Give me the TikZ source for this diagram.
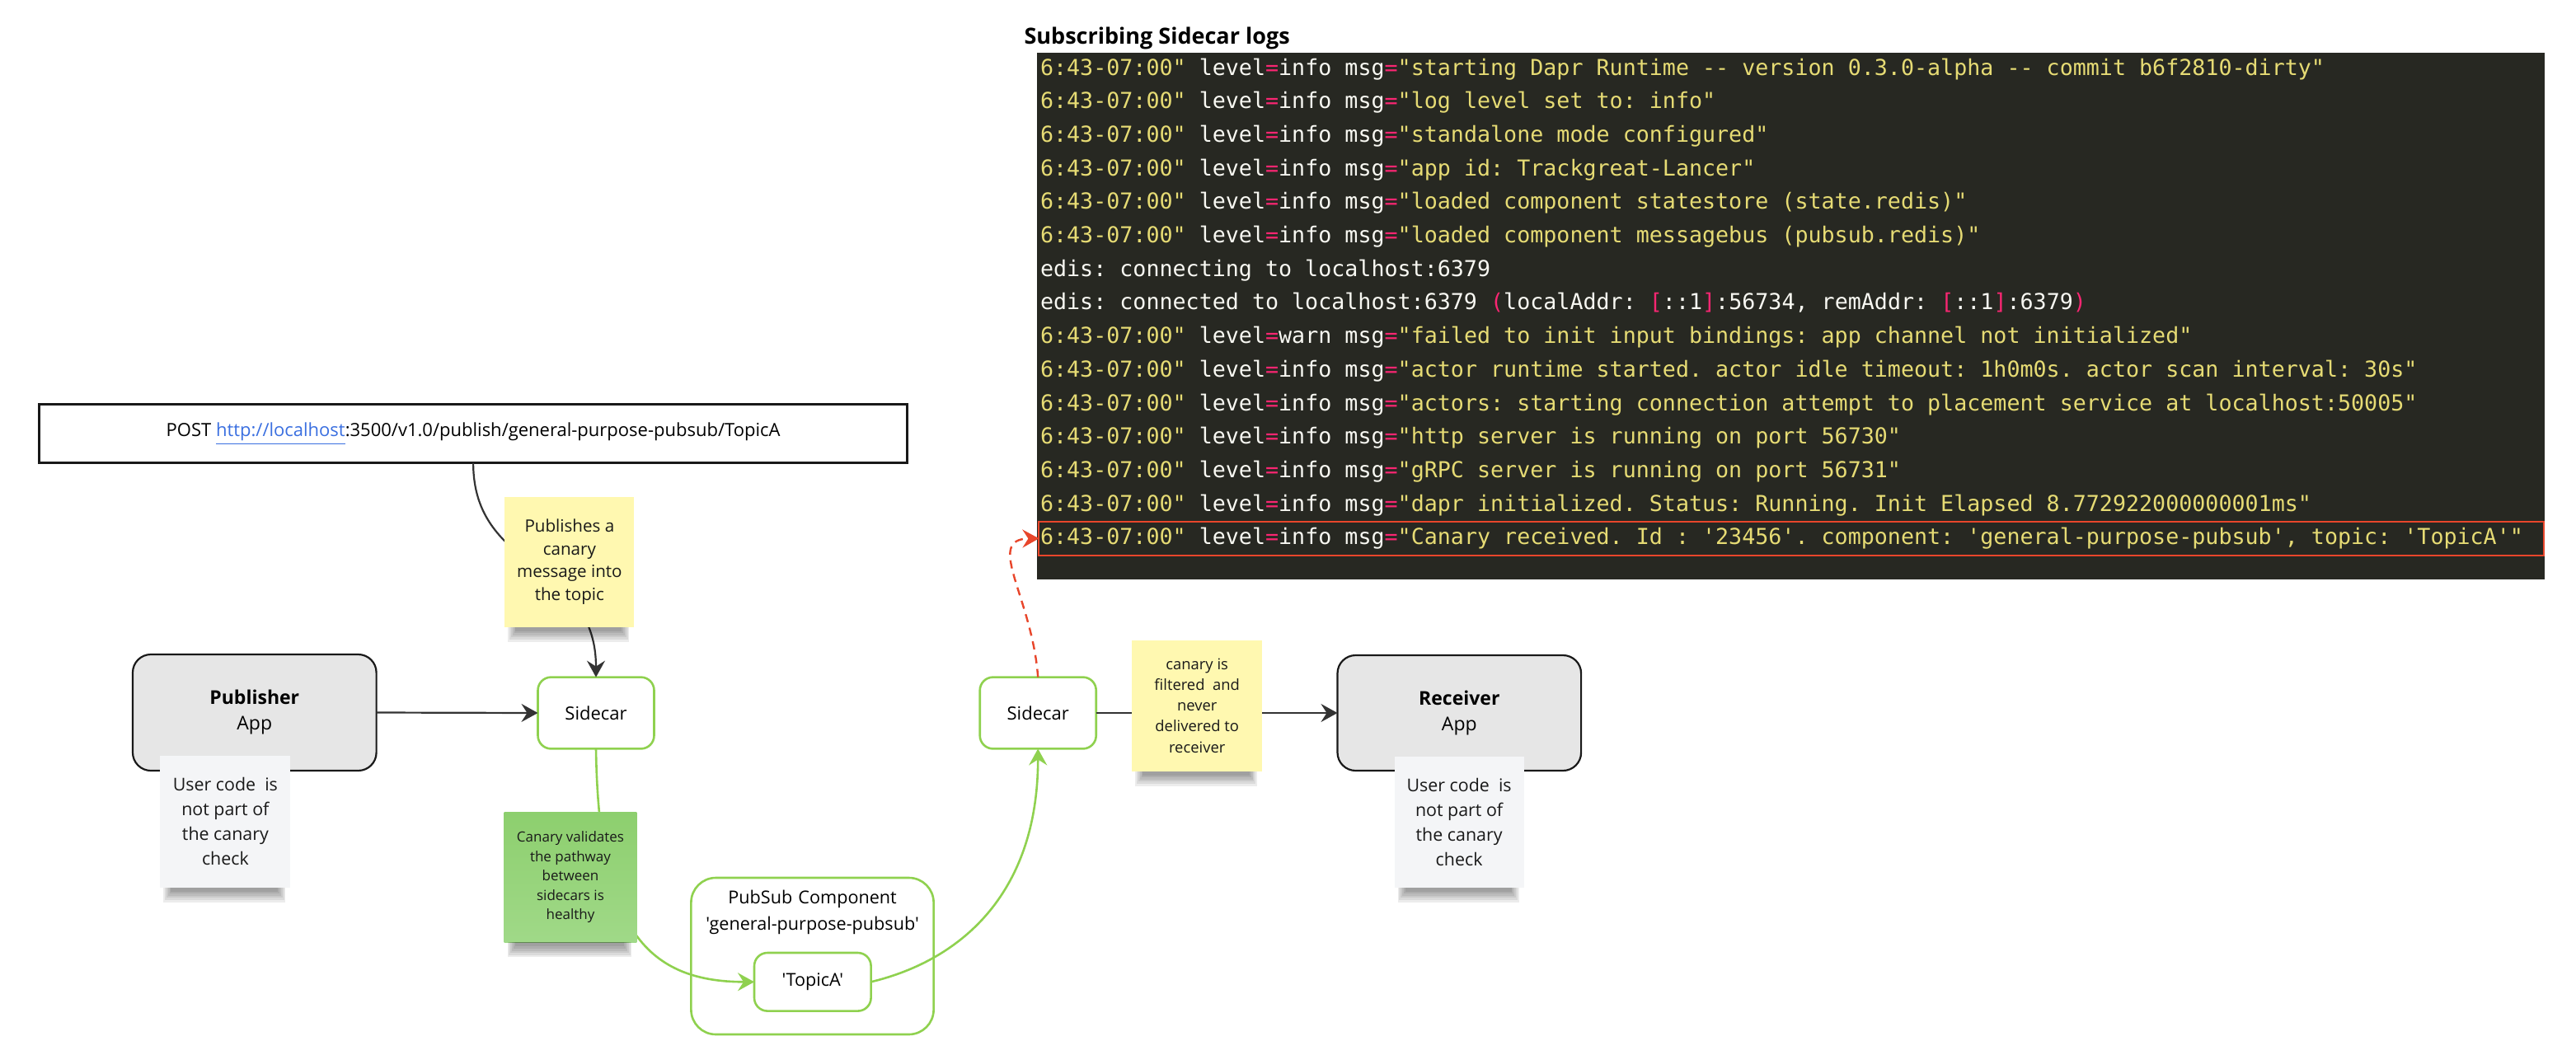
\documentclass[tikz,border=0pt]{standalone}
\usepackage{fontspec}
\usetikzlibrary{arrows.meta}
\newfontfamily\osans{Open Sans}
\newfontfamily\termfont{DejaVu Sans Mono}
\definecolor{termbg}{HTML}{272822}
\definecolor{tyel}{HTML}{E6DB74}
\definecolor{twhite}{HTML}{F8F8F2}
\definecolor{tpink}{HTML}{F92672}
\definecolor{redhl}{HTML}{E8462B}
\definecolor{sidegreen}{HTML}{8FD14F}
\definecolor{stickyyel}{HTML}{FFF8B0}
\definecolor{stickygray}{HTML}{F4F5F7}
\definecolor{sgreenA}{HTML}{8DCF6E}
\definecolor{sgreenB}{HTML}{A0D988}
\definecolor{appgray}{HTML}{E6E6E6}
\definecolor{linkblue}{HTML}{3A6FE0}
\definecolor{darkline}{HTML}{333333}
\newcommand{\Ty}[1]{\textcolor{tyel}{#1}}
\newcommand{\Tw}[1]{\textcolor{twhite}{#1}}
\newcommand{\Tp}[1]{\textcolor{tpink}{#1}}
\newcommand{\logline}[2]{\Ty{6:43-07:00"} \Tw{level}\Tp{=}\Tw{#1} \Tw{msg}\Tp{=}\Ty{"#2"}}
\newcommand{\fs}[2]{\fontsize{#1}{#2}\selectfont}
\newcommand{\stickyshadow}[1]{%
  \foreach \i in {0,...,5}{%
    \fill[black, opacity=0.075] ([xshift=2pt+\i*0.9pt]#1.south west) rectangle ([xshift=-3pt-\i*0.9pt, yshift=-9pt+\i*1.3pt]#1.south east);
  }}
\frenchspacing
\begin{document}
\frenchspacing
\begin{tikzpicture}[x=1pt,y=-1pt,
  every node/.style={inner sep=0pt, outer sep=0pt},
  logrow/.style={anchor=base west, font=\termfont\fs{13.34}{16}\frenchspacing, text=twhite},
  sidecar/.style={draw=sidegreen, line width=1.3pt, rounded corners=8pt, fill=white,
    minimum width=70.5pt, minimum height=43.4pt, font=\osans\fs{11}{13}},
  appbox/.style={draw=black!90, line width=1.1pt, rounded corners=11pt, fill=appgray,
    minimum width=147.8pt, align=center, font=\osans\fs{11.5}{15.5}},
  stickybase/.style={align=center, text=black!90},
  darkarrow/.style={draw=darkline, line width=1.1pt, -{Stealth[length=10pt, width=11pt, inset=3.5pt]}},
  greenarrow/.style={draw=sidegreen, line width=1.3pt, -{Stealth[length=10pt, width=11pt, inset=3.5pt]}},
  greenline/.style={draw=sidegreen, line width=1.3pt}
]
\useasboundingbox (0,0) rectangle (1562.5,639.5);

% ---------- terminal ----------
\node[anchor=base west, font=\osans\bfseries\fs{13.5}{16}] (title) at (621.3,26.7) {Subscribing Sidecar logs};
\node[fill=termbg, minimum width=914.2pt, minimum height=319.5pt, anchor=north west] (term) at (629.2,32.2) {};
\begin{scope}
\clip (629.2,32.2) rectangle (1543.4,351.7);
\node[logrow] (r1) at (631,45.5) {\logline{info}{starting Dapr Runtime -\kern0pt- version 0.3.0-alpha -\kern0pt- commit b6f2810-dirty}};
\node[logrow] (r2) at (631,65.85) {\logline{info}{log level set to: info}};
\node[logrow] (r3) at (631,86.2) {\logline{info}{standalone mode configured}};
\node[logrow] (r4) at (631,106.55) {\logline{info}{app id: Trackgreat-Lancer}};
\node[logrow] (r5) at (631,126.9) {\logline{info}{loaded component statestore (state.redis)}};
\node[logrow] (r6) at (631,147.25) {\logline{info}{loaded component messagebus (pubsub.redis)}};
\node[logrow] (r7) at (631,167.6) {\Tw{edis: connecting to localhost:6379}};
\node[logrow] (r8) at (631,187.95) {\Tw{edis: connected to localhost:6379 }\Tp{(}\Tw{localAddr: }\Tp{[}\Tw{::1}\Tp{]}\Tw{:56734, remAddr: }\Tp{[}\Tw{::1}\Tp{]}\Tw{:6379}\Tp{)}};
\node[logrow] (r9) at (631,208.3) {\logline{warn}{failed to init input bindings: app channel not initialized}};
\node[logrow] (r10) at (631,228.65) {\logline{info}{actor runtime started. actor idle timeout: 1h0m0s. actor scan interval: 30s}};
\node[logrow] (r11) at (631,249) {\logline{info}{actors: starting connection attempt to placement service at localhost:50005}};
\node[logrow] (r12) at (631,269.35) {\logline{info}{http server is running on port 56730}};
\node[logrow] (r13) at (631,289.7) {\logline{info}{gRPC server is running on port 56731}};
\node[logrow] (r14) at (631,310.05) {\logline{info}{dapr initialized. Status: Running. Init Elapsed 8.772922000000001ms}};
\node[logrow] (r15) at (631,330.4) {\logline{info}{Canary received. Id : '23456'. component: 'general-purpose-pubsub', topic: 'TopicA'}};
\end{scope}
\node[draw=redhl, line width=1pt, minimum width=912.7pt, minimum height=20.7pt, anchor=north west] (redbox) at (630.2,316.3) {};

% ---------- diagram nodes ----------
\node[draw=black!90, line width=1.3pt, fill=white, minimum width=526.5pt, minimum height=35.5pt, font=\osans\fs{11}{13}] (post) at (287.05,263.05)
  {POST {\color{linkblue}\underline{http://localhost}}:3500/v1.0/publish/general-purpose-pubsub/TopicA};
\node[appbox, minimum height=70.5pt] (pub) at (154.4,432.25) {{\bfseries Publisher}\\App};
\node[appbox, minimum height=70pt] (recv) at (885.15,432.5) {{\bfseries Receiver}\\App};
\node[sidecar] (sc1) at (361.5,432.5) {Sidecar};
\node[sidecar] (sc2) at (629.6,432.5) {Sidecar};
\node[draw=sidegreen, line width=1.3pt, rounded corners=15pt, minimum width=147.1pt, minimum height=95pt] (pubsub) at (492.75,580) {};
\node[anchor=base, text width=150pt, align=center, font=\osans\fs{10.8}{16}] (pubsubtxt) at (492.8,548.3) {PubSub Component\\'general-purpose-pubsub'};
\node[draw=sidegreen, line width=1.3pt, rounded corners=8pt, fill=white, minimum width=70.8pt, minimum height=35.3pt, font=\osans\fs{10.8}{13}] (topic) at (492.9,595.65) {'TopicA'};

% ---------- connectors ----------
\draw[darkarrow] (pub.east) -- (sc1.west);
\draw[darkarrow] (sc2.east) -- (recv.west);
\draw[darkarrow] (post.south) .. controls (287,348) and (361.5,340) .. (sc1.north);
\draw[greenarrow] (sc1.south) .. controls (363,560) and (390,595.65) .. (topic.west);
\draw[greenarrow] (topic.east) .. controls (585,582) and (629.6,540) .. (sc2.south);
\draw[draw=redhl, line width=1.2pt, dash pattern=on 5pt off 3.5pt, -{Stealth[length=10pt, width=11pt, inset=3.5pt, sep=0pt]}]
  (sc2.north) .. controls (626,362) and (597,327) .. (redbox.west);

% ---------- sticky notes ----------
\node[stickybase, fill=stickyyel, minimum width=78.5pt, minimum height=79pt, font=\osans\fs{10.3}{13.7}] (note1) at (345.45,340.8)
  {Publishes a\\canary\\message into\\the topic};
\stickyshadow{note1}
\node[stickybase, fill=stickygray, minimum width=79pt, minimum height=79.8pt, font=\osans\fs{10.7}{15}] (user1) at (136.7,498.4)
  {User code~ is\\not part of\\the canary\\check};
\stickyshadow{user1}
\node[stickybase, top color=sgreenA, bottom color=sgreenB, minimum width=80.4pt, minimum height=79.2pt, font=\osans\fs{8.5}{11.7}] (note2) at (346,532.1)
  {Canary validates\\the pathway\\between\\sidecars is\\healthy};
\stickyshadow{note2}
\node[stickybase, fill=stickyyel, minimum width=78.8pt, minimum height=79.5pt, font=\osans\fs{9.2}{12.6}] (note3) at (726.1,428.05)
  {canary is\\filtered~ and\\never\\delivered to\\receiver};
\stickyshadow{note3}
\node[stickybase, fill=stickygray, minimum width=78.5pt, minimum height=79.1pt, font=\osans\fs{10.7}{15}] (user2) at (885.05,498.75)
  {User code~ is\\not part of\\the canary\\check};
\stickyshadow{user2}
\end{tikzpicture}
\end{document}
